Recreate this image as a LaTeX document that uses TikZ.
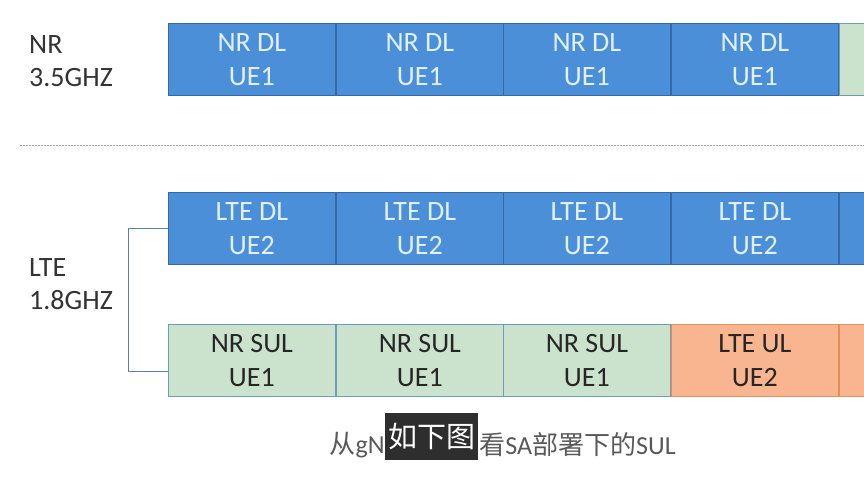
\documentclass[tikz,border=0pt]{standalone}
\usepackage{fontspec}
\setmainfont{Carlito}
\newfontfamily\cjk{Noto Sans CJK SC}
\definecolor{cblue}{HTML}{4A8FD8}
\definecolor{cblueb}{HTML}{3468A8}
\definecolor{cbluet}{HTML}{E2F0FF}
\definecolor{cgreen}{HTML}{CBE3CD}
\definecolor{cgreenb}{HTML}{6E9CB8}
\definecolor{corange}{HTML}{F9B590}
\definecolor{coraneb}{HTML}{E0905C}
\definecolor{ctext}{HTML}{333333}
\definecolor{cline}{HTML}{5A7FA8}
\tikzset{
  cell/.style={anchor=north west, minimum width=167pt, minimum height=72pt, inner sep=0pt, align=center, font=\fontsize{28}{34}\selectfont, line width=0.8pt},
  bluecell/.style={cell, fill=cblue, draw=cblueb, text=cbluet},
  greencell/.style={cell, fill=cgreen, draw=cgreenb, text=black!85},
  orangecell/.style={cell, fill=corange, draw=coraneb, text=black!85},
  sidelabel/.style={anchor=west, align=left, font=\fontsize{28}{33}\selectfont, text=ctext, inner sep=0pt},
  captext/.style={font=\fontsize{26}{30}\selectfont, text=black!65, inner sep=0pt},
}
\begin{document}
\begin{tikzpicture}[x=1pt, y=-1pt]
\useasboundingbox (0,0) rectangle (864,486);
\clip (0,0) rectangle (864,486);
% row 1 NR DL
\node[bluecell] (n1) at (168,23) {NR DL\\UE1};
\node[bluecell] (n2) at (336,23) {NR DL\\UE1};
\node[bluecell] (n3) at (503,23) {NR DL\\UE1};
\node[bluecell] (n4) at (671,23) {NR DL\\UE1};
\node[greencell] (n5) at (839,23) {};
% row 2 LTE DL
\node[bluecell] (d1) at (168,192) {LTE DL\\UE2};
\node[bluecell] (d2) at (336,192) {LTE DL\\UE2};
\node[bluecell] (d3) at (503,192) {LTE DL\\UE2};
\node[bluecell] (d4) at (671,192) {LTE DL\\UE2};
\node[bluecell] (d5) at (839,192) {};
% row 3 UL
\node[greencell] (s1) at (168,324) {NR SUL\\UE1};
\node[greencell] (s2) at (336,324) {NR SUL\\UE1};
\node[greencell] (s3) at (503,324) {NR SUL\\UE1};
\node[orangecell] (u4) at (671,324) {LTE UL\\UE2};
\node[orangecell] (u5) at (839,324) {};
% side labels
\node[sidelabel] (nrlab) at (29,61) {NR\\3.5GHZ};
\node[sidelabel] (ltelab) at (29,284) {LTE\\1.8GHZ};
% separator
\coordinate (sepL) at (20,146);
\coordinate (sepR) at (864,146);
\draw[gray!70, line width=1pt, dash pattern=on 2pt off 1pt] (sepL) -- (sepR);
% bracket
\draw[cline, line width=1pt] (d1.west) -- ++(-40,0) |- ([yshift=-11pt]s1.west);
% caption with overlay box
\node[fill=black!82, text=white, font=\cjk\fontsize{29}{32}\selectfont, minimum width=93pt, minimum height=47pt, inner sep=0pt] (over) at (431.5,436.5) {如下图};
\node[captext, anchor=east] (capl) at ([yshift=-8.5pt]over.west) {{\cjk 从}gN};
\node[captext, anchor=west] (capr) at ([xshift=1pt, yshift=-8.5pt]over.east) {{\cjk 看}SA{\cjk 部署下的}SUL};
\end{tikzpicture}
\end{document}
